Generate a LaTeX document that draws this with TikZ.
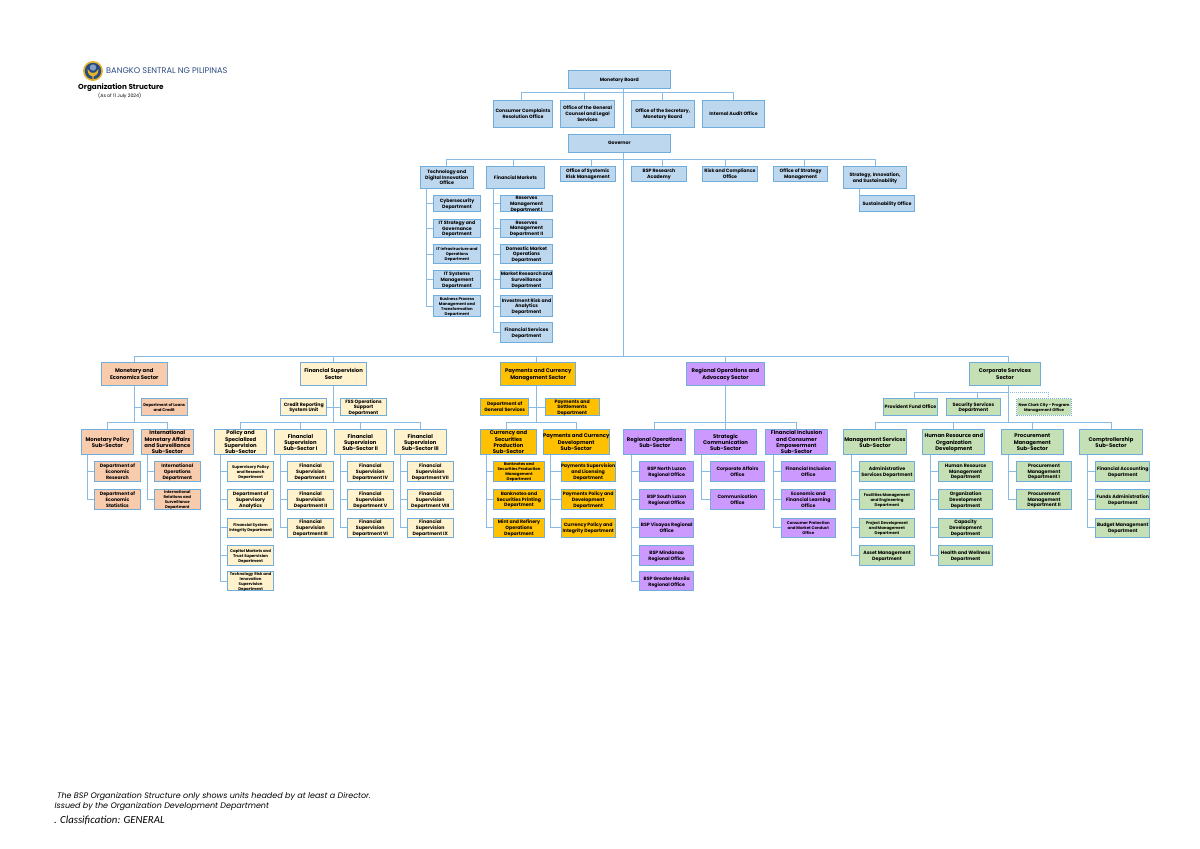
\documentclass[tikz,border=0pt]{standalone}
\usepackage{fontspec}
\setmainfont{Poppins}
\newfontfamily\notefont{Carlito}
\usetikzlibrary{calc, positioning}
\definecolor{linkblue}{HTML}{8ABBE5}
\definecolor{edgeblue}{HTML}{6FADDC}
\definecolor{boxblue}{HTML}{BDD7EE}
\definecolor{boxpeach}{HTML}{F8CBAD}
\definecolor{boxcream}{HTML}{FFF2CC}
\definecolor{boxgold}{HTML}{FFC000}
\definecolor{boxviolet}{HTML}{CC99FF}
\definecolor{boxgreen}{HTML}{C5E0B4}
\definecolor{bspnavy}{HTML}{2C4A80}
\definecolor{bspgold}{HTML}{E2B52B}
\tikzset{
  link/.style={draw=linkblue, line width=1pt},
  unit/.style={draw=edgeblue, line width=1pt, inner sep=0pt, align=center, text depth=-1.6pt, font=\fontsize{4.7}{5.7}\selectfont\bfseries},
  sz/.style 2 args={minimum width=#1pt-1pt, minimum height=#2pt-1pt},
  big/.style={font=\fontsize{5.3}{6.3}\selectfont\bfseries},
  small/.style={font=\fontsize{3.9}{5}\selectfont\bfseries},
  blu/.style={unit, fill=boxblue},
  pch/.style={unit, fill=boxpeach},
  crm/.style={unit, fill=boxcream},
  gld/.style={unit, fill=boxgold},
  vio/.style={unit, fill=boxviolet},
  grn/.style={unit, fill=boxgreen},
  plain/.style={inner sep=0pt, anchor=west}
}
\begin{document}
\begin{tikzpicture}[x=1pt, y=-1pt]
  \useasboundingbox (0,0) rectangle (1200,849);
  % logo and heading
  \fill [bspgold] (93,71) circle [radius=10];
  \fill [bspnavy] (93,71) circle [radius=8.2];
  \fill [bspgold] (87.5,69) .. controls (87.5,75) and (91,76) .. (92.3,76.5) -- (92.3,79) -- (93.7,79) -- (93.7,76.5) .. controls (95,76) and (98.5,75) .. (98.5,69) -- (96.8,71) .. controls (96,73.5) and (90,73.5) .. (89.2,71) -- cycle;
  \fill [boxblue!60!bspnavy] (93,67.5) circle [radius=3.2];
  \node (bsp) at (106,71) [plain, text=bspnavy, font=\fontsize{8.2}{9}\selectfont] {BANGKO SENTRAL NG PILIPINAS};
  \node (title) at (78,88) [plain, font=\fontsize{7.25}{8}\selectfont\bfseries] {Organization Structure};
  \node (asof) at (98,96) [plain, font=\fontsize{4.7}{5}\selectfont] {(As of 11 July 2024)};
  % footer
  \node (note1) at (57,797) [plain, font=\fontsize{8}{9}\selectfont\itshape] {The BSP Organization Structure only shows units headed by at least a Director.};
  \node (note2) at (54.5,807) [plain, font=\fontsize{8}{9}\selectfont\itshape] {Issued by the Organization Development Department};
  \node (note3) at (54,820) [plain, font=\notefont\fontsize{10.8}{12}\selectfont\itshape] {. Classification: GENERAL};
  % board and governor
  \node (mb) at (619.3,79.5) [blu, sz={102.7}{19}] {Monetary Board};
  \node (ccro) at (523,113.8) [blu, sz={59.4}{27.7}] {Consumer Complaints\\Resolution Office};
  \node (ogc) at (587.5,113.8) [blu, sz={55}{27.7}] {Office of the General\\Counsel and Legal\\Services};
  \node (osmb) at (662.8,113.8) [blu, sz={63.7}{27.7}] {Office of the Secretary,\\Monetary Board};
  \node (iao) at (733.5,113.8) [blu, sz={63}{27.7}] {Internal Audit Office};
  \node (gov) at (619.3,143.3) [blu, sz={102.7}{19.3}] {Governor};
  % offices under the governor
  \node (tdio) at (446.8,177.3) [blu, sz={53.7}{23.3}] {Technology and\\Digital Innovation\\Office};
  \node (fm) at (515.5,177.3) [blu, sz={58.4}{23.3}] {Financial Markets};
  \node (osrm) at (587.8,173.7) [blu, sz={55.7}{16}] {Office of Systemic\\Risk Management};
  \node (bra) at (659,173.7) [blu, sz={55.4}{16}] {BSP Research\\Academy};
  \node (rco) at (730,173.7) [blu, sz={55.4}{16}] {Risk and Compliance\\Office};
  \node (osm) at (800.6,173.7) [blu, sz={55.3}{16}] {Office of Strategy\\Management};
  \node (sis) at (875,177.3) [blu, sz={63.4}{23.3}] {Strategy, Innovation,\\and Sustainability};
  \node (suso) at (887,203.7) [blu, sz={55.4}{17.3}] {Sustainability Office};
  \node (cyber) at (457,203.7) [blu, sz={47.4}{17.3}] {Cybersecurity\\Department};
  \node (itsg) at (457,228.3) [blu, sz={47.4}{19.3}] {IT Strategy and\\Governance\\Department};
  \node (itio) at (457,254) [blu, small, sz={47.4}{19.4}] {IT Infrastructure and\\Operations\\Department};
  \node (itsm) at (457,279.7) [blu, sz={47.4}{19.3}] {IT Systems\\Management\\Department};
  \node (bpm) at (457,306) [blu, small, sz={47.4}{21.4}] {Business Process\\Management and\\Transformation\\Department};
  \node (rm1) at (526.5,203.7) [blu, sz={53}{17.3}] {Reserves\\Management\\Department I};
  \node (rm2) at (526.5,228.3) [blu, sz={53}{19.3}] {Reserves\\Management\\Department II};
  \node (dmo) at (526.5,254) [blu, sz={53}{19.4}] {Domestic Market\\Operations\\Department};
  \node (mrs) at (526.5,279.7) [blu, sz={53}{19.3}] {Market Research and\\Surveillance\\Department};
  \node (ira) at (526.5,306) [blu, sz={53}{21.4}] {Investment Risk and\\Analytics\\Department};
  \node (fsd) at (526.5,332.7) [blu, sz={53}{20.7}] {Financial Services\\Department};
  % sectors
  \node (mes) at (134.3,374) [pch, big, sz={66.7}{23.4}] {Monetary and\\Economics Sector};
  \node (fss) at (333.6,374) [crm, big, sz={66.7}{23.4}] {Financial Supervision\\Sector};
  \node (pcm) at (538.2,374) [gld, big, sz={76.3}{23.4}] {Payments and Currency\\Management Sector};
  \node (roa) at (725.5,374) [vio, big, sz={79}{23.4}] {Regional Operations and\\Advocacy Sector};
  \node (css) at (1005,374) [grn, big, sz={71.4}{23.4}] {Corporate Services\\Sector};
  % units directly under the sectors
  \node (loans) at (164.2,407) [pch, small, sz={47}{17.4}] {Department of Loans\\and Credit};
  \node (crsu) at (303.8,407) [crm, sz={47}{17.4}] {Credit Reporting\\System Unit};
  \node (fssd) at (363.5,407) [crm, sz={47}{17.4}] {FSS Operations\\Support\\Department};
  \node (dgs) at (504.7,407) [gld, sz={49.3}{17.4}] {Department of\\General Services};
  \node (psd) at (572.2,407) [gld, sz={55}{17.4}] {Payments and\\Settlements\\Department};
  \node (pfo) at (910.5,407) [grn, sz={55.6}{17.4}] {Provident Fund Office};
  \node (ssd) at (973.4,407) [grn, sz={55.3}{17.4}] {Security Services\\Department};
  \node (ncc) at (1044.1,407) [grn, densely dotted, small, sz={55.7}{17.4}] {New Clark City - Program\\Management Office};
  % sub-sectors
  \node (mps) at (107.5,442.2) [pch, big, sz={53}{26.3}] {Monetary Policy\\Sub-Sector};
  \node (ima) at (167.4,442.2) [pch, big, sz={53.3}{26.3}] {International\\Monetary Affairs\\and Surveillance\\Sub-Sector};
  \node (pss) at (240.6,442.2) [crm, big, sz={53.3}{26.3}] {Policy and\\Specialized\\Supervision\\Sub-Sector};
  \node (fs1) at (300.5,442.2) [crm, big, sz={53}{26.3}] {Financial\\Supervision\\Sub-Sector I};
  \node (fs2) at (360.3,442.2) [crm, big, sz={53.3}{26.3}] {Financial\\Supervision\\Sub-Sector II};
  \node (fs3) at (420.3,442.2) [crm, big, sz={53.3}{26.3}] {Financial\\Supervision\\Sub-Sector III};
  \node (csp) at (508.5,442.2) [gld, big, sz={57}{26.3}] {Currency and\\Securities\\Production\\Sub-Sector};
  \node (pcd) at (576.2,442.2) [gld, big, sz={63}{26.3}] {Payments and Currency\\Development\\Sub-Sector};
  \node (ros) at (654.8,442.2) [vio, big, sz={63}{26.3}] {Regional Operations\\Sub-Sector};
  \node (scs) at (725.6,442.2) [vio, big, sz={63.3}{26.3}] {Strategic\\Communication\\Sub-Sector};
  \node (fic) at (796.5,442.2) [vio, big, sz={63}{26.3}] {Financial Inclusion\\and Consumer\\Empowerment\\Sub-Sector};
  \node (msv) at (875,442.2) [grn, big, sz={63.4}{26.3}] {Management Services\\Sub-Sector};
  \node (hro) at (953.8,442.2) [grn, big, sz={63}{26.3}] {Human Resource and\\Organization\\Development};
  \node (pms) at (1032.3,442.2) [grn, big, sz={63.3}{26.3}] {Procurement\\Management\\Sub-Sector};
  \node (cts) at (1111,442.2) [grn, big, sz={63.4}{26.3}] {Comptrollership\\Sub-Sector};
  % departments, monetary and economics
  \node (der) at (117.5,471.5) [pch, sz={46.4}{21}] {Department of\\Economic\\Research};
  \node (des) at (117.5,499.5) [pch, sz={46.4}{20.4}] {Department of\\Economic\\Statistics};
  \node (iod) at (177.3,471.5) [pch, sz={46.7}{21}] {International\\Operations\\Department};
  \node (irs) at (177.3,499.5) [pch, small, sz={46.7}{20.4}] {International\\Relations and\\Surveillance\\Department};
  % departments, financial supervision
  \node (spr) at (250.6,471.5) [crm, small, sz={46.7}{21}] {Supervisory Policy\\and Research\\Department};
  \node (dsa) at (250.6,499.5) [crm, sz={46.7}{20.4}] {Department of\\Supervisory\\Analytics};
  \node (fsi) at (250.6,527.7) [crm, small, sz={46.7}{20}] {Financial System\\Integrity Department};
  \node (cmt) at (250.6,555.5) [crm, small, sz={46.7}{20.4}] {Capital Markets and\\Trust Supervision\\Department};
  \node (tri) at (250.6,581.3) [crm, small, sz={46.7}{20}] {Technology Risk and\\Innovation\\Supervision\\Department};
  \node (fsd1) at (310.5,471.5) [crm, sz={46.4}{21}] {Financial\\Supervision\\Department I};
  \node (fsd2) at (310.5,499.5) [crm, sz={46.4}{20.4}] {Financial\\Supervision\\Department II};
  \node (fsd3) at (310.5,527.7) [crm, sz={46.4}{20}] {Financial\\Supervision\\Department III};
  \node (fsd4) at (370.3,471.5) [crm, sz={46.7}{21}] {Financial\\Supervision\\Department IV};
  \node (fsd5) at (370.3,499.5) [crm, sz={46.7}{20.4}] {Financial\\Supervision\\Department V};
  \node (fsd6) at (370.3,527.7) [crm, sz={46.7}{20}] {Financial\\Supervision\\Department VI};
  \node (fsd7) at (430.3,471.5) [crm, sz={46.7}{21}] {Financial\\Supervision\\Department VII};
  \node (fsd8) at (430.3,499.5) [crm, sz={46.7}{20.4}] {Financial\\Supervision\\Department VIII};
  \node (fsd9) at (430.3,527.7) [crm, sz={46.7}{20}] {Financial\\Supervision\\Department IX};
  % departments, payments and currency
  \node (bsp1) at (519,471.5) [gld, small, sz={51.4}{21}] {Banknotes and\\Securities Production\\Management\\Department};
  \node (bsp2) at (519,499.5) [gld, sz={51.4}{20.4}] {Banknotes and\\Securities Printing\\Department};
  \node (mro) at (519,527.7) [gld, sz={51.4}{20}] {Mint and Refinery\\Operations\\Department};
  \node (psl) at (588.2,471.5) [gld, sz={55}{21}] {Payments Supervision\\and Licensing\\Department};
  \node (ppd) at (588.2,499.5) [gld, sz={55}{20.4}] {Payments Policy and\\Development\\Department};
  \node (cpi) at (588.2,527.7) [gld, sz={55}{20}] {Currency Policy and\\Integrity Department};
  % offices, regional operations and advocacy
  \node (nlu) at (666.7,471.5) [vio, sz={55.3}{21}] {BSP North Luzon\\Regional Office};
  \node (slu) at (666.7,499.5) [vio, sz={55.3}{20.4}] {BSP South Luzon\\Regional Office};
  \node (vis) at (666.7,527.7) [vio, sz={55.3}{20}] {BSP Visayas Regional\\Office};
  \node (min) at (666.7,555.5) [vio, sz={55.3}{20.4}] {BSP Mindanao\\Regional Office};
  \node (gma) at (666.7,581.3) [vio, sz={55.3}{20}] {BSP Greater Manila\\Regional Office};
  \node (cao) at (737.5,471.5) [vio, sz={55}{21}] {Corporate Affairs\\Office};
  \node (cmo) at (737.5,499.5) [vio, sz={55}{20.4}] {Communication\\Office};
  \node (fio) at (808.3,471.5) [vio, sz={54.7}{21}] {Financial Inclusion\\Office};
  \node (efl) at (808.3,499.5) [vio, sz={54.7}{20.4}] {Economic and\\Financial Learning\\Office};
  \node (cpm) at (808.3,527.7) [vio, small, sz={54.7}{20}] {Consumer Protection\\and Market Conduct\\Office};
  % departments, corporate services
  \node (asd) at (887,471.5) [grn, sz={55.4}{21}] {Administrative\\Services Department};
  \node (fme) at (887,499.5) [grn, small, sz={55.4}{20.4}] {Facilities Management\\and Engineering\\Department};
  \node (pdm) at (887,527.7) [grn, small, sz={55.4}{20}] {Project Development\\and Management\\Department};
  \node (amd) at (887,555.5) [grn, sz={55.4}{20.4}] {Asset Management\\Department};
  \node (hrm) at (965.6,471.5) [grn, sz={55.3}{21}] {Human Resource\\Management\\Department};
  \node (odd) at (965.6,499.5) [grn, sz={55.3}{20.4}] {Organization\\Development\\Department};
  \node (cdd) at (965.6,527.7) [grn, sz={55.3}{20}] {Capacity\\Development\\Department};
  \node (hwd) at (965.6,555.5) [grn, sz={55.3}{20.4}] {Health and Wellness\\Department};
  \node (pm1) at (1044,471.5) [grn, sz={55.4}{21}] {Procurement\\Management\\Department I};
  \node (pm2) at (1044,499.5) [grn, sz={55.4}{20.4}] {Procurement\\Management\\Department II};
  \node (fad) at (1122.8,471.5) [grn, sz={55}{21}] {Financial Accounting\\Department};
  \node (fnd) at (1122.8,499.5) [grn, sz={55}{20.4}] {Funds Administration\\Department};
  \node (bmd) at (1122.8,527.7) [grn, sz={55}{20}] {Budget Management\\Department};
  % hubs
  \coordinate (mbhub) at (623.3,92.7);
  \coordinate (govhub) at (623.3,159.3);
  \coordinate (sechub) at (623.3,356);
  \coordinate (meshub) at (134.3,422);
  \coordinate (fsshub) at (333.3,422);
  \coordinate (pcmhub) at (536.7,422);
  \coordinate (roahub) at (725.7,422);
  \coordinate (csshub) at (1008.3,422);
  \coordinate (cssupper) at (1008.3,392);
  % top of the chart
  \draw [link] (mb.south -| mbhub) -- (gov.north -| mbhub);
  \draw [link] (gov.south -| sechub) -- (sechub);
  \foreach \k/\d in {ccro/-2, ogc/-3.5, osmb/-.5, iao/0}
    \draw [link] (mbhub) -| ($(\k.north)+(\d,0)$);
  \foreach \k/\d in {tdio/0, fm/-2, osrm/4, bra/3.3, rco/-4.3, osm/3.7, sis/0}
    \draw [link] (govhub) -| ($(\k.north)+(\d,0)$);
  \foreach \k/\d in {mes/0, fss/-.3, pcm/-1.5, roa/.2, css/3.3}
    \draw [link] (sechub) -| ($(\k.north)+(\d,0)$);
  % sector trunks
  \draw [link] (mes.south -| meshub) -- (meshub);
  \draw [link] (fss.south -| fsshub) -- (fsshub);
  \draw [link] (pcm.south -| pcmhub) -- (pcmhub);
  \draw [link] (roa.south -| roahub) -- (roahub);
  \draw [link] (css.south -| csshub) -- (csshub);
  \draw [link] (loans.west) -- (loans.west -| meshub);
  \draw [link] (crsu.east) -- (fssd.west);
  \draw [link] (dgs.east) -- (psd.west);
  \foreach \k/\d in {mps/0, ima/0}
    \draw [link] (meshub) -| ($(\k.north)+(\d,0)$);
  \foreach \k/\d in {pss/0, fs1/0, fs2/0, fs3/0}
    \draw [link] (fsshub) -| ($(\k.north)+(\d,0)$);
  \foreach \k/\d in {csp/-1.8, pcd/.5}
    \draw [link] (pcmhub) -| ($(\k.north)+(\d,0)$);
  \foreach \k/\d in {ros/0, scs/0, fic/0}
    \draw [link] (roahub) -| ($(\k.north)+(\d,0)$);
  \foreach \k/\d in {msv/0, hro/0, pms/0, cts/0}
    \draw [link] (csshub) -| ($(\k.north)+(\d,0)$);
  \foreach \k/\d in {pfo/3.8, ssd/4}
    \draw [link] (cssupper) -| ($(\k.north)+(\d,0)$);
  \draw [link, densely dotted] (cssupper) -| ($(ncc.north)+(4,0)$);
  % side branches
  \draw [link] ($(sis.south west)+(16,0)$) |- (suso.west);
  \foreach \k in {cyber, itsg, itio, itsm, bpm}
    \draw [link] ($(tdio.south west)+(6.7,0)$) |- (\k.west);
  \foreach \k in {rm1, rm2, dmo, mrs, ira, fsd}
    \draw [link] ($(fm.south west)+(7,0)$) |- (\k.west);
  \foreach \k in {der, des}
    \draw [link] ($(mps.south west)+(6.5,0)$) |- (\k.west);
  \foreach \k in {iod, irs}
    \draw [link] ($(ima.south west)+(6.5,0)$) |- (\k.west);
  \foreach \k in {spr, dsa, fsi, cmt, tri}
    \draw [link] ($(pss.south west)+(6.4,0)$) |- (\k.west);
  \foreach \k in {fsd1, fsd2, fsd3}
    \draw [link] ($(fs1.south west)+(6.4,0)$) |- (\k.west);
  \foreach \k in {fsd4, fsd5, fsd6}
    \draw [link] ($(fs2.south west)+(6.4,0)$) |- (\k.west);
  \foreach \k in {fsd7, fsd8, fsd9}
    \draw [link] ($(fs3.south west)+(6.4,0)$) |- (\k.west);
  \foreach \k in {bsp1, bsp2, mro}
    \draw [link] ($(csp.south west)+(6.7,0)$) |- (\k.west);
  \foreach \k in {psl, ppd, cpi}
    \draw [link] ($(pcd.south west)+(8,0)$) |- (\k.west);
  \foreach \k in {nlu, slu, vis, min, gma}
    \draw [link] ($(ros.south west)+(8,0)$) |- (\k.west);
  \foreach \k in {cao, cmo}
    \draw [link] ($(scs.south west)+(8,0)$) |- (\k.west);
  \foreach \k in {fio, efl, cpm}
    \draw [link] ($(fic.south west)+(8,0)$) |- (\k.west);
  \foreach \k in {asd, fme, pdm, amd}
    \draw [link] ($(msv.south west)+(8.4,0)$) |- (\k.west);
  \foreach \k in {hrm, odd, cdd, hwd}
    \draw [link] ($(hro.south west)+(7.7,0)$) |- (\k.west);
  \foreach \k in {pm1, pm2}
    \draw [link] ($(pms.south west)+(7.6,0)$) |- (\k.west);
  \foreach \k in {fad, fnd, bmd}
    \draw [link] ($(cts.south west)+(8,0)$) |- (\k.west);
\end{tikzpicture}
\end{document}
